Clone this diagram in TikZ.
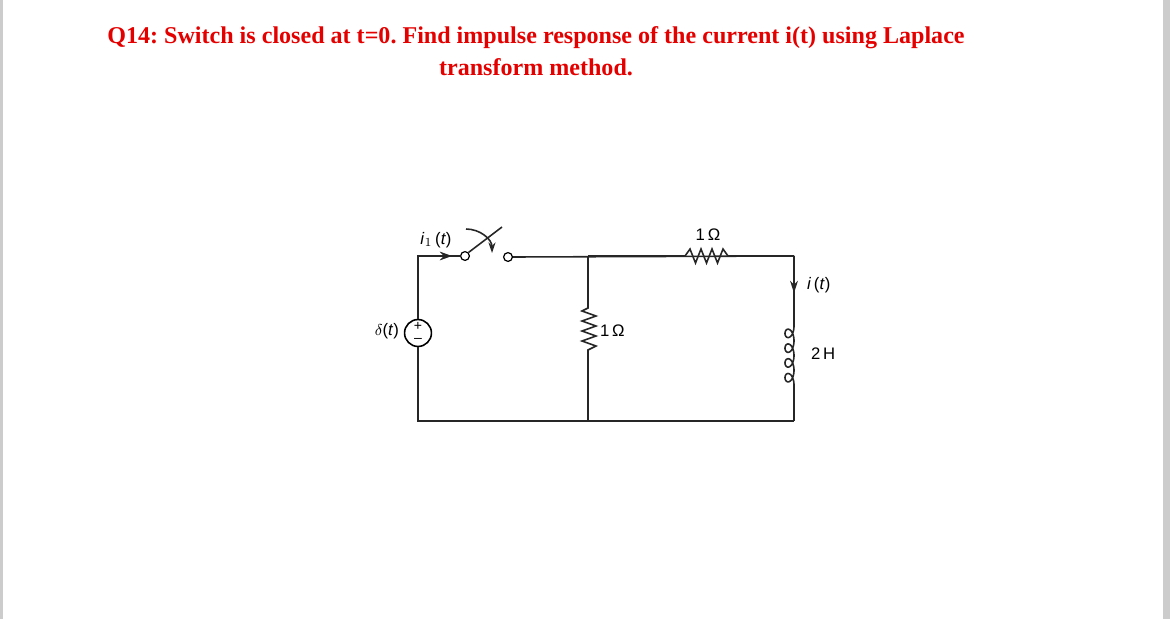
\documentclass[tikz,border=0pt]{standalone}
\usepackage{fontspec}
\setmainfont{Liberation Serif}
\setsansfont{Liberation Sans}
\usetikzlibrary{arrows.meta}
\begin{document}
\frenchspacing
\begin{tikzpicture}[x=0.02cm,y=-0.02cm,
  wire/.style={line width=0.9pt,black!85},
  lbl/.style={font=\sffamily\fontsize{9.5}{10}\selectfont,inner sep=1pt},
  title/.style={font=\bfseries\fontsize{13.7}{15}\selectfont,text=red!90!black,inner sep=0}]
\useasboundingbox (0,0) rectangle (1170,619);
\fill[black!20] (0,0) rectangle (3,619);
\fill[black!20] (1163,0) rectangle (1170,619);
\node[title] (t1) at (536,38) {Q14: Switch is closed at t=0. Find impulse response of the current i(t) using Laplace};
\node[title] (t2) at (536,67) {transform method.};
\coordinate (tl) at (418,256);
\coordinate (bl) at (418,421);
\coordinate (tm) at (588,256);
\coordinate (bm) at (588,421);
\coordinate (tr) at (794,256);
\coordinate (br) at (794,421);
\node[circle,draw,line width=0.9pt,minimum size=27*0.567pt,inner sep=0] (src) at (418,333) {};
\node[font=\sffamily\fontsize{8}{8}\selectfont,inner sep=0] (plus) at (418,326) {+};
\node[font=\sffamily\fontsize{8}{8}\selectfont,inner sep=0] (minus) at (418,340) {--};
\node[circle,draw,line width=0.7pt,minimum size=5pt,inner sep=0] (c1) at (465,256) {};
\node[circle,draw,line width=0.7pt,minimum size=5pt,inner sep=0] (c2) at (508,257) {};
\draw[wire] (src.north) -- (tl) -- (c1.west);
\draw[-{Stealth[length=7pt,width=5pt]},wire] (tl) -- (452,256);
\draw[wire] (src.south) -- (bl) -- (br);
\draw[wire] (c2.east) -- (tr);
\draw[wire] (c1.north east) -- (502,227);
\draw[wire,-{Stealth[length=6pt,width=4pt]}] (466,229) to[out=0,in=90] (492,253);
\draw[wire] (tm) -- (588,308) -- (582,311) -- (596,316) -- (582,321) -- (596,326) -- (582,331) -- (596,336) -- (582,341) -- (596,346) -- (588,350) -- (bm);
\node[lbl,anchor=west] (r2) at (598,331) {1\,Ω};
\draw[wire] (tm) -- (685,256) -- (690,249) -- (695.5,263) -- (701,249) -- (706.5,263) -- (712,249) -- (717.5,263) -- (723,249) -- (728,256) -- (tr);
\node[lbl] (r1) at (708,235) {1\,Ω};
\draw[wire] (tr) -- (794,326);
\draw[wire,-{Stealth[length=7pt,width=4.5pt]}] (794,268) -- (794,293);
\node[lbl,anchor=west] (il) at (805,285) {\textit{i}\,(\textit{t})};
\draw[wire,smooth,samples=200,domain=0:25.13] plot ({794-4.5*(1-cos(\x r))},{326+2.35*\x+7.5*sin(\x r)});
\draw[wire] (794,385) -- (br);
\node[lbl,anchor=west] (l1) at (809,354) {2\,H};
\node[lbl,anchor=east] (sl) at (401,331) {$\delta$(\textit{t})};
\node[lbl] (i1) at (436,240) {\textit{i}$_1$\,(\textit{t})};
\end{tikzpicture}
\end{document}
